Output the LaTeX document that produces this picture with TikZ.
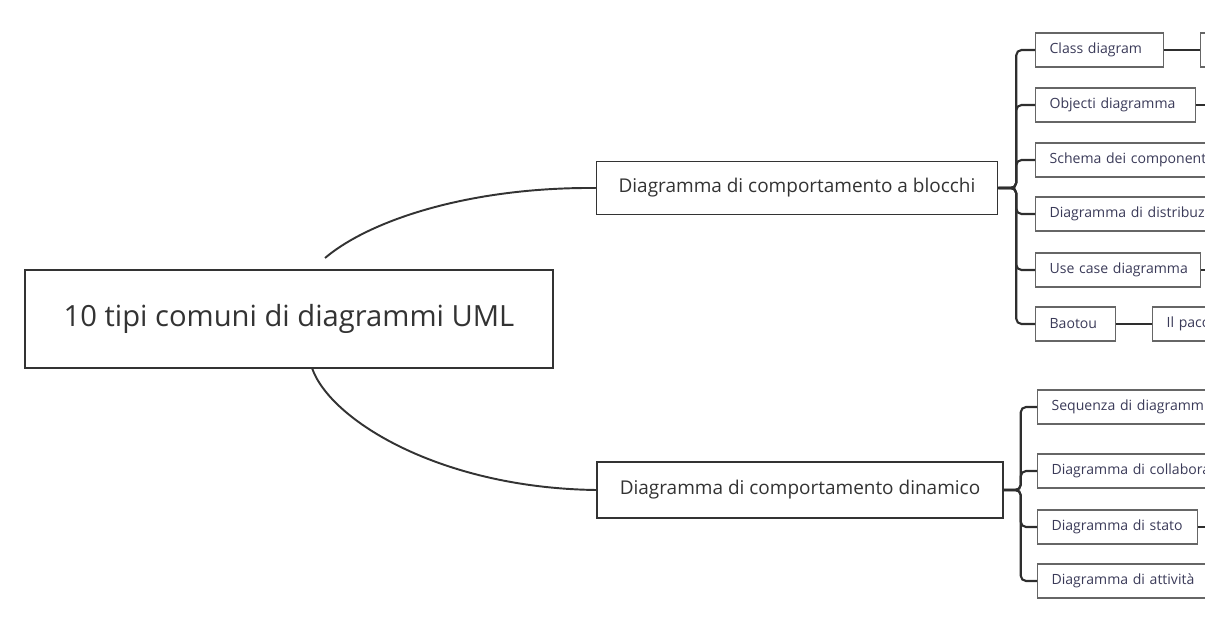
\documentclass[tikz,border=0pt]{standalone}
\usepackage{fontspec}
\setmainfont{Open Sans}
\definecolor{ink}{HTML}{333333}
\definecolor{leaf}{HTML}{3A3A58}
\begin{document}
\begin{tikzpicture}[x=0.02cm,y=-0.02cm,
  box/.style={draw=ink,line width=0.9pt,rectangle,inner sep=0pt,text=ink},
  leafbox/.style={draw=gray!80!black,line width=0.7pt,rectangle,inner ysep=0pt,
    inner xsep=0.28cm,minimum height=0.68cm,text=leaf,font=\fontsize{8}{9}\selectfont,
    anchor=west,text width=#1,align=left},
  link/.style={draw=ink,line width=1.1pt},
  branch/.style={draw=ink!90!black,line width=1.2pt,rounded corners=3pt}]
\useasboundingbox (0,0) rectangle (1205,631);
\clip (0,0) rectangle (1205,631);
% central topic
\node[box,line width=1.2pt,minimum width=10.56cm,minimum height=1.96cm,
  font=\fontsize{16.6}{18}\selectfont] (root) at (289,319) {10 tipi comuni di diagrammi UML};
% main branches
\node[box,minimum width=8.02cm,minimum height=1.06cm,font=\fontsize{10.8}{13}\selectfont]
  (blk) at (797,188) {Diagramma di comportamento a blocchi};
\node[box,minimum width=8.12cm,minimum height=1.12cm,font=\fontsize{10.8}{13}\selectfont]
  (dyn) at (800,490) {Diagramma di comportamento dinamico};
\coordinate (rt) at (325,258);
\coordinate (rb) at (312,368);
\draw[link] (rt) .. controls (370,220) and (470,187) .. (blk.west);
\draw[link] (rb) .. controls (330,420) and (440,488) .. (dyn.west);
% leaves, upper group
\node[leafbox=2.0cm] (cls) at (1035,50) {Class diagram};
\node[leafbox=2.64cm] (obj) at (1035,105) {\mbox{Objecti diagramma}};
\node[leafbox=4.84cm] (sch) at (1035,160) {Schema dei componenti};
\node[leafbox=4.84cm] (dis) at (1035,214) {Diagramma di distribuzione};
\node[leafbox=2.74cm] (use) at (1035,270) {\mbox{Use case diagramma}};
\node[leafbox=1.04cm] (bao) at (1035,324) {Baotou};
\node[leafbox=2.44cm] (cls2) at (1200,50) {};
\node[leafbox=2.44cm] (pkg) at (1152,324) {Il pacchetto};
\coordinate (objend) at (1230,105);
\coordinate (useend) at (1230,270);
\foreach \n in {cls,obj,sch,dis,use,bao}
  \draw[branch] (blk.east) -- ++(18,0) |- (\n.west);
\draw[branch] (cls.east) -- (cls2.west);
\draw[branch] (obj.east) -- (objend);
\draw[branch] (use.east) -- (useend);
\draw[branch] (bao.east) -- (pkg.west);
% leaves, lower group
\node[leafbox=4.84cm] (seq) at (1037,407) {Sequenza di diagrammi};
\node[leafbox=4.84cm] (col) at (1037,471) {Diagramma di collaborazione};
\node[leafbox=2.64cm] (sta) at (1037,527) {\mbox{Diagramma di stato}};
\node[leafbox=4.84cm] (att) at (1037,581) {Diagramma di attività};
\coordinate (staend) at (1230,527);
\foreach \n in {seq,col,sta,att}
  \draw[branch] (dyn.east) -- ++(17,0) |- (\n.west);
\draw[branch] (sta.east) -- (staend);
\end{tikzpicture}
\end{document}
